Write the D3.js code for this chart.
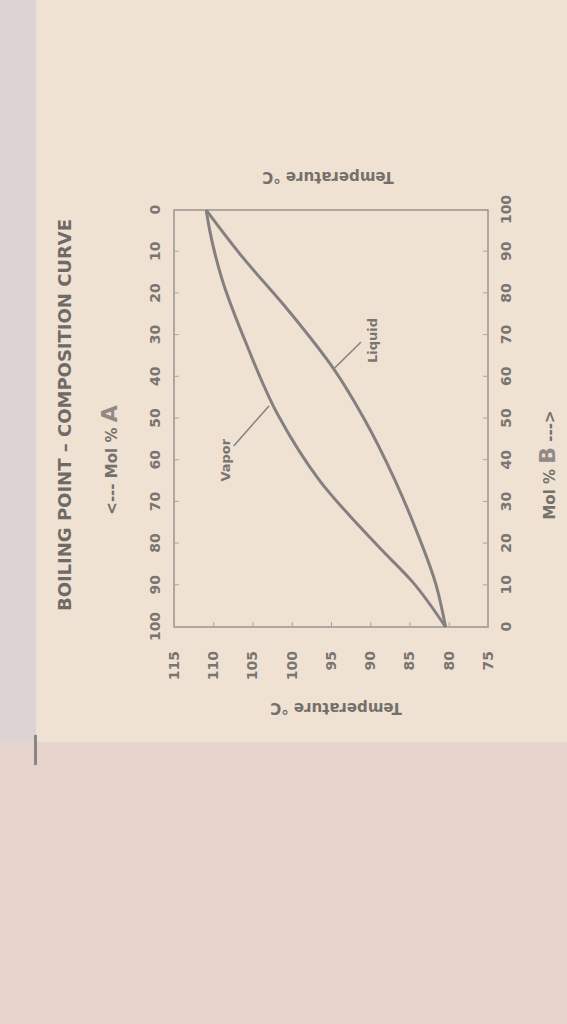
<!DOCTYPE html>
<html><head><meta charset="utf-8">
<script src="https://cdn.jsdelivr.net/npm/d3@7"></script>
<style>body{margin:0;background:#e4d2c6;}svg{display:block}text{font-family:"DejaVu Sans",sans-serif;}</style>
</head><body><svg id="c" width="567" height="1024"></svg>
<script>
const liquidB = [0, 10, 23, 35.4, 50, 62, 75.6, 89, 100];
const liquidT = [80.4, 81.6, 84.1, 86.9, 90.8, 94.7, 100.3, 106.4, 110.9];
const vaporB = [0, 11, 19, 35, 51, 67.5, 83.5, 95.6, 100];
const vaporT = [80.4, 84.7, 88.8, 96.4, 101.8, 105.7, 108.9, 110.5, 110.9];
const bTicks = [0,10,20,30,40,50,60,70,80,90,100];
const tTicks = [75,80,85,90,95,100,105,110,115];

const svg = d3.select("#c");
svg.append("rect").attr("x",0).attr("y",0).attr("width",567).attr("height",1024).attr("fill","#e6d3cc");
svg.append("rect").attr("x",36).attr("y",0).attr("width",531).attr("height",742).attr("fill","#efe2d2");
svg.append("rect").attr("x",0).attr("y",0).attr("width",36).attr("height",742).attr("fill","#dcd3d2");
svg.append("rect").attr("x",34).attr("y",735).attr("width",3).attr("height",30).attr("fill","#8b8587");

const W = 417, H = 314;
const g = svg.append("g").attr("transform","translate(174,627) rotate(-90)");
const x = d3.scaleLinear().domain([0,100]).range([0,W]);
const y = d3.scaleLinear().domain([75,115]).range([H,0]);
const col = "#858080";
const txt = "#7a7571";

g.append("rect").attr("width",W).attr("height",H).attr("fill","none").attr("stroke","#9a9590").attr("stroke-width",1.5);

const axB = g.append("g").attr("transform",`translate(0,${H})`)
  .call(d3.axisBottom(x).tickValues(bTicks).tickSize(-5).tickPadding(13));
const axA = g.append("g")
  .call(d3.axisTop(x).tickValues(bTicks).tickSize(-5).tickPadding(14).tickFormat(d=>100-d));
const axT = g.append("g")
  .call(d3.axisLeft(y).tickValues(tTicks).tickSize(-5).tickPadding(24));
[axB,axA,axT].forEach(a=>{a.select(".domain").remove();
  a.selectAll("line").attr("stroke","#aaa5a0");
  a.selectAll("text").attr("fill",txt).attr("font-size",14).attr("font-weight","bold");});

const line = d3.line().x(d=>x(d[0])).y(d=>y(d[1])).curve(d3.curveMonotoneX);
g.append("path").datum(liquidB.map((b,i)=>[b,liquidT[i]])).attr("d",line)
  .attr("fill","none").attr("stroke",col).attr("stroke-width",3);
g.append("path").datum(vaporB.map((b,i)=>[b,vaporT[i]])).attr("d",line)
  .attr("fill","none").attr("stroke",col).attr("stroke-width",3);

g.append("line").attr("x1",x(53)).attr("y1",y(102.9)).attr("x2",x(43.4)).attr("y2",y(107.4)).attr("stroke",col).attr("stroke-width",1.5);
g.append("text").attr("x",x(40)).attr("y",y(108.5)).attr("text-anchor","middle").attr("dy","0.35em")
  .attr("fill",txt).attr("font-size",13).attr("font-weight","bold").text("Vapor");
g.append("line").attr("x1",x(61.8)).attr("y1",y(94.7)).attr("x2",x(68.3)).attr("y2",y(91.2)).attr("stroke",col).attr("stroke-width",1.5);
g.append("text").attr("x",x(68.7)).attr("y",y(89.7)).attr("text-anchor","middle").attr("dy","0.35em")
  .attr("fill",txt).attr("font-size",13).attr("font-weight","bold").text("Liquid");

g.append("text").attr("x",212).attr("y",-109).attr("text-anchor","middle").attr("dy","0.35em")
  .attr("fill","#6f6a66").attr("font-size",18).attr("font-weight","bold").text("BOILING POINT – COMPOSITION CURVE");
const ta = g.append("text").attr("x",167).attr("y",-62).attr("text-anchor","middle").attr("dy","0.35em")
  .attr("fill","#75706c").attr("font-size",15).attr("font-weight","bold");
ta.append("tspan").text("<--- Mol % ");
ta.append("tspan").attr("font-size",22).attr("fill","#908a86").text("A");
const tb = g.append("text").attr("x",162).attr("y",H+62).attr("text-anchor","middle").attr("dy","0.35em")
  .attr("fill","#75706c").attr("font-size",15).attr("font-weight","bold");
tb.append("tspan").text("Mol % ");
tb.append("tspan").attr("font-size",22).attr("fill","#908a86").text("B");
tb.append("tspan").text(" --->");
g.append("text").attr("transform",`translate(-81,162) rotate(-90)`).attr("text-anchor","middle").attr("dy","0.35em")
  .attr("fill","#75706c").attr("font-size",15).attr("font-weight","bold").text("Temperature °C");
g.append("text").attr("transform",`translate(450,154) rotate(-90)`).attr("text-anchor","middle").attr("dy","0.35em")
  .attr("fill","#75706c").attr("font-size",15).attr("font-weight","bold").text("Temperature °C");
</script></body></html>
